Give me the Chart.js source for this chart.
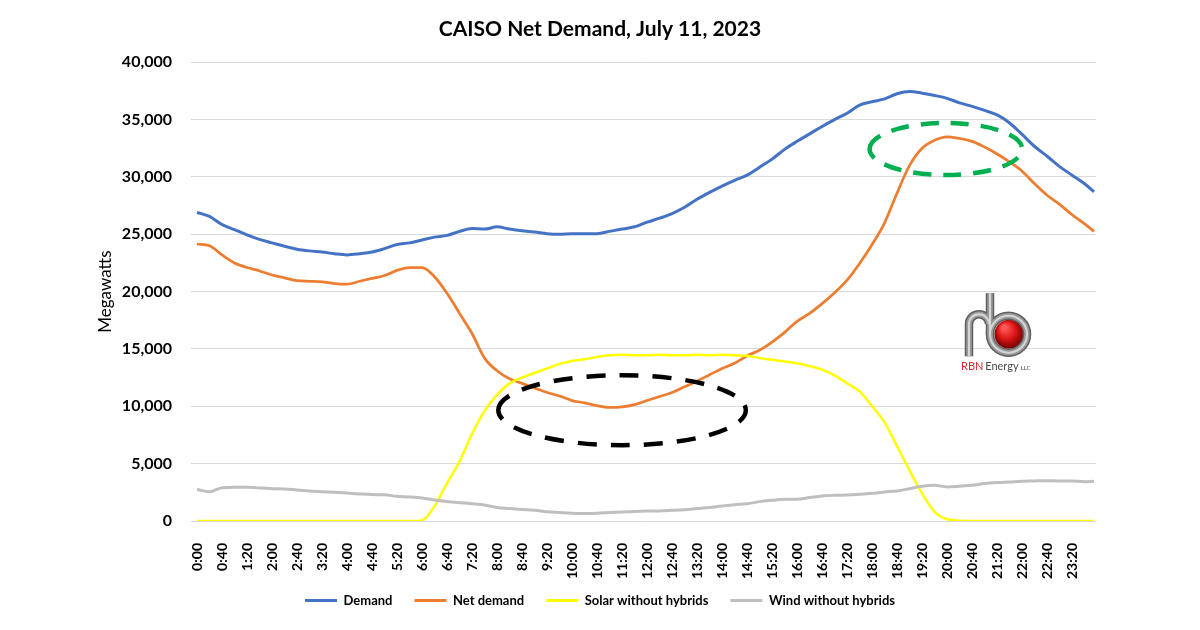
<!DOCTYPE html>
<html><head><meta charset="utf-8">
<script src="https://cdn.jsdelivr.net/npm/chart.js@4.4.0/dist/chart.umd.min.js"></script>
<style>html,body{margin:0;padding:0;background:#fff;}#wrap{width:1200px;height:630px;}</style>
</head><body><div id="wrap"><canvas id="c" width="1200" height="630"></canvas></div>
<script>
// minutes after midnight
const times = [0,20,40,60,80,100,120,140,160,180,200,220,240,260,280,300,320,340,360,380,400,420,440,460,480,500,520,540,560,580,600,620,640,660,680,700,720,740,760,780,800,820,840,860,880,900,920,940,960,980,1000,1020,1040,1060,1080,1100,1120,1140,1160,1180,1200,1220,1240,1260,1280,1300,1320,1340,1360,1380,1400,1420,1435];
const demand = [26900,26550,25850,25400,24950,24550,24250,23950,23700,23550,
  23450,23300,23200,23300,23450,23750,24100,24250,24500,24750,
  24900,25250,25500,25450,25650,25450,25300,25200,25050,25000,
  25050,25050,25050,25250,25450,25650,26050,26400,26800,27350,
  28050,28650,29200,29700,30150,30850,31550,32400,33100,33750,
  34400,35000,35550,36250,36550,36800,37250,37450,37300,37100,
  36850,36450,36150,35800,35400,34700,33700,32650,31800,30900,
  30150,29400,28700];
const netDemand = [24150,24000,23200,22500,22100,21800,21450,21200,20950,20900,
  20850,20700,20650,20900,21150,21400,21850,22100,22100,21300,
  19850,18100,16350,14200,13100,12400,12000,11600,11200,10900,
  10500,10300,10050,9900,9950,10150,10500,10850,11200,11700,
  12200,12750,13300,13750,14400,14900,15600,16450,17400,18100,
  18950,19900,21000,22450,24100,26000,28600,31000,32500,33200,
  33500,33350,33100,32600,32000,31300,30500,29400,28400,27600,
  26700,25900,25250];
const solar = [0,0,0,0,0,0,0,0,0,0,
  0,0,0,0,0,0,0,0,50,1300,
  3300,5200,7600,9600,11000,12000,12500,12900,13300,13700,
  13950,14100,14300,14450,14500,14450,14450,14500,14450,14450,
  14500,14450,14500,14450,14400,14200,14050,13900,13750,13500,
  13200,12700,12000,11300,10000,8600,6500,4400,2400,800,
  150,30,0,0,0,0,0,0,0,0,
  0,0,0];
const wind = [2750,2550,2900,2950,2950,2880,2820,2790,2700,2620,
  2560,2510,2440,2360,2300,2280,2150,2100,2010,1830,
  1700,1600,1510,1400,1170,1080,1000,940,800,740,
  680,650,670,740,790,820,870,880,930,990,
  1080,1170,1310,1420,1510,1690,1800,1890,1900,2040,
  2180,2240,2270,2330,2410,2530,2620,2820,3030,3110,
  2970,3030,3110,3260,3350,3400,3460,3490,3520,3490,
  3490,3430,3460];
const tickLabels = ['0:00','0:40','1:20','2:00','2:40','3:20','4:00','4:40','5:20','6:00','6:40','7:20','8:00','8:40','9:20','10:00','10:40','11:20','12:00','12:40','13:20','14:00','14:40','15:20','16:00','16:40','17:20','18:00','18:40','19:20','20:00','20:40','21:20','22:00','22:40','23:20'];
const seriesNames = ['Demand','Net demand','Solar without hybrids','Wind without hybrids'];
const chartTitle = 'CAISO Net Demand, July 11, 2023';
const yTitle = 'Megawatts';

// highlight ellipses in data units (center minute, center MW, half-width minutes, half-height MW)
const ellipseCenters = [[680, 9660], [1198, 32430]];
const ellipseRadii = [[198, 3050], [122, 2270]];

const tickMinutes = tickLabels.map(s => { const p = s.split(':'); return (+p[0]) * 60 + (+p[1]); });
const toPoints = arr => times.map((t, i) => ({ x: t, y: arr[i] }));

const styles = [
  { color: '#4472C4', width: 3 },
  { color: '#ED7D31', width: 2.75 },
  { color: '#FFFF00', width: 2.5 },
  { color: '#BFBFBF', width: 3 }
];
const ellipseStyles = [
  { color: '#000000', dash: [19, 14] },
  { color: '#00B050', dash: [18, 12] }
];

const seriesData = [demand, netDemand, solar, wind];
const datasets = seriesData.map((arr, i) => ({
  label: seriesNames[i],
  data: toPoints(arr),
  borderColor: styles[i].color,
  backgroundColor: styles[i].color,
  borderWidth: styles[i].width,
  pointRadius: 0,
  pointHoverRadius: 0,
  pointStyle: 'line',
  pointBorderWidth: 3,
  pointBorderColor: styles[i].color,
  cubicInterpolationMode: 'monotone',
  fill: false,
  order: 4 - i
}));

const overlay = {
  id: 'overlay',
  afterLayout(chart) {
    if (chart.legend) { chart.legend.top -= 9; chart.legend.bottom -= 9; }
  },
  afterDatasetsDraw(chart) {
    const ctx = chart.ctx, xs = chart.scales.x, ys = chart.scales.y;
    ctx.save();
    ellipseCenters.forEach((c, i) => {
      const cx = xs.getPixelForValue(c[0]), cy = ys.getPixelForValue(c[1]);
      const rx = Math.abs(xs.getPixelForValue(c[0] + ellipseRadii[i][0]) - cx);
      const ry = Math.abs(ys.getPixelForValue(c[1] + ellipseRadii[i][1]) - cy);
      ctx.beginPath();
      ctx.setLineDash(ellipseStyles[i].dash);
      ctx.lineWidth = 4.5;
      ctx.strokeStyle = ellipseStyles[i].color;
      ctx.ellipse(cx, cy, rx, ry, 0, Math.PI, 3 * Math.PI);
      ctx.stroke();
    });
    ctx.setLineDash([]);
    // RBN Energy logo
    const a = chart.chartArea;
    const ox = a.right - 1096, oy = a.top - 62;
    const pipe = (w, c) => {
      ctx.lineWidth = w; ctx.strokeStyle = c; ctx.lineCap = 'butt';
      ctx.beginPath();
      ctx.moveTo(969 + ox, 356 + oy); ctx.lineTo(969 + ox, 324 + oy);
      ctx.arc(979 + ox, 324 + oy, 10, Math.PI, 2 * Math.PI);
      ctx.stroke();
      ctx.beginPath();
      ctx.moveTo(990 + ox, 293 + oy); ctx.lineTo(990 + ox, 334 + oy);
      ctx.stroke();
      ctx.beginPath();
      ctx.arc(1008.5 + ox, 334 + oy, 18.5, 0, 2 * Math.PI);
      ctx.stroke();
    };
    const g = ctx.createRadialGradient(1004 + ox, 327 + oy, 2, 1009 + ox, 333 + oy, 15);
    g.addColorStop(0, '#ff5a5a'); g.addColorStop(0.5, '#e01818'); g.addColorStop(1, '#7a0000');
    ctx.fillStyle = g;
    ctx.beginPath(); ctx.arc(1009 + ox, 334 + oy, 14.5, 0, 2 * Math.PI); ctx.fill();
    pipe(8.5, '#5f5f5f');
    pipe(5.5, '#9a9a9a');
    pipe(2, '#d6d6d6');
    ctx.textBaseline = 'middle';
    ctx.font = '11px Lato';
    ctx.fillStyle = '#e3262f';
    ctx.fillText('RBN', 961 + ox, 366 + oy);
    let w = ctx.measureText('RBN ').width;
    ctx.fillStyle = '#4a4a4a';
    ctx.fillText('Energy', 961 + ox + w - 1, 366 + oy);
    w += ctx.measureText('Energy').width;
    ctx.font = '6px Lato';
    ctx.fillText('LLC', 961 + ox + w + 1, 368 + oy);
    ctx.restore();
  }
};

new Chart(document.getElementById('c'), {
  type: 'line',
  data: { datasets },
  options: {
    responsive: false,
    animation: false,
    devicePixelRatio: 1,
    layout: { padding: { left: 0, right: 0, top: 0, bottom: 4 } },
    plugins: {
      title: {
        display: true, text: chartTitle, color: '#000',
        font: { family: 'Lato', size: 21, weight: 'bold' },
        padding: { top: 17, bottom: 20 }
      },
      legend: {
        position: 'bottom',
        labels: {
          usePointStyle: true, pointStyleWidth: 32, color: '#000',
          font: { family: 'Lato', size: 13, weight: 'bold' }, padding: 22,
          sort: (p, q) => p.datasetIndex - q.datasetIndex
        }
      },
      tooltip: { enabled: false }
    },
    scales: {
      x: {
        type: 'linear', min: -9.6, max: 1438.2,
        grid: { display: false }, border: { display: false },
        afterBuildTicks: s => { s.ticks = tickMinutes.map(v => ({ value: v })); },
        afterFit: s => { s.height = 60; },
        ticks: {
          autoSkip: false, minRotation: 90, maxRotation: 90, padding: 14, color: '#000',
          font: { family: 'Lato', size: 14, weight: 'bold' },
          callback: v => { const i = tickMinutes.indexOf(v); return i >= 0 ? tickLabels[i] : ''; }
        }
      },
      y: {
        min: 0, max: 40000,
        afterFit: s => { s.width = 191; },
        grid: { color: '#d9d9d9', drawTicks: false }, border: { display: false },
        ticks: {
          stepSize: 5000, padding: 19, color: '#000',
          font: { family: 'Lato', size: 16, weight: 'bold' },
          callback: v => v.toLocaleString('en-US')
        },
        title: {
          display: true, text: yTitle, color: '#000',
          font: { family: 'Lato', size: 17 }, padding: { top: 95, bottom: 0 }
        }
      },
      spacer: {
        position: 'right', min: 0, max: 1,
        grid: { display: false }, border: { display: false },
        ticks: { display: false },
        afterFit: s => { s.width = 104; }
      }
    }
  },
  plugins: [overlay]
});
</script></body></html>
